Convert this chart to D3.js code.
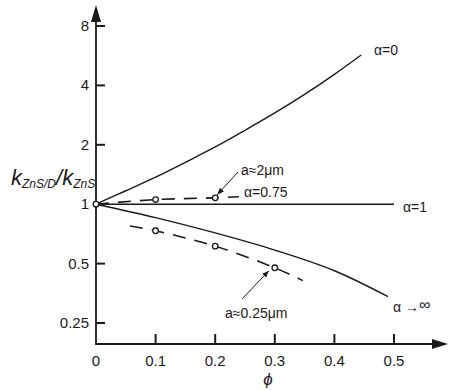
<!DOCTYPE html>
<html><head><meta charset="utf-8">
<script src="https://cdn.jsdelivr.net/npm/d3@7"></script>
<style>
html,body{margin:0;padding:0;background:#fff;}
text{font-family:"Liberation Sans",Arial,sans-serif;fill:#1a1a1a;}
</style></head>
<body><svg id="c" width="474" height="390"></svg>
<script>
// ---- data ----
const yTicks = [0.25, 0.5, 1, 2, 4, 8];
const yTickLabels = ["0.25", "0.5", "1", "2", "4", "8"];
const xTicks = [0, 0.1, 0.2, 0.3, 0.4, 0.5];
const xTickLabels = ["0", "0.1", "0.2", "0.3", "0.4", "0.5"];

const phiAlpha0 = [0, 0.05, 0.1, 0.15, 0.2, 0.25, 0.3, 0.35, 0.4, 0.445];
const valAlpha0 = [1, 1.17, 1.37, 1.63, 1.95, 2.37, 2.9, 3.6, 4.55, 5.7];

const phiAlpha1 = [0, 0.5];
const valAlpha1 = [1, 1];

const phiAlphaInf = [0, 0.1, 0.2, 0.3, 0.4, 0.49];
const valAlphaInf = [1, 0.855, 0.715, 0.585, 0.46, 0.34];

const phiA2um = [0, 0.1, 0.2, 0.24];
const valA2um = [1, 1.055, 1.077, 1.09];
const ptsA2umPhi = [0.1, 0.2];
const ptsA2umVal = [1.055, 1.077];

const phiA025 = [0.057, 0.1, 0.2, 0.3, 0.347];
const valA025 = [0.776, 0.733, 0.613, 0.476, 0.41];
const ptsA025Phi = [0.1, 0.2, 0.3];
const ptsA025Val = [0.733, 0.613, 0.476];

// ---- drawing ----
const svg = d3.select("#c");
const ink = "#1a1a1a";
const x = d3.scaleLinear().domain([0, 0.5]).range([96, 394]);
const y = d3.scaleLog().base(2).domain([0.25, 8]).range([323, 26]);

const defs = svg.append("defs");
defs.append("marker").attr("id", "ah").attr("viewBox", "0 0 10 10")
  .attr("refX", 10).attr("refY", 5).attr("markerWidth", 7).attr("markerHeight", 7)
  .attr("markerUnits", "userSpaceOnUse").attr("orient", "auto")
  .append("path").attr("d", "M0,1 L10,5 L0,9 Z").attr("fill", ink);

// axes lines with arrows
const x0 = x(0), yBase = 344;
svg.append("line").attr("x1", x0).attr("x2", x0).attr("y1", yBase + 1).attr("y2", 20)
  .attr("stroke", ink).attr("stroke-width", 1.8);
svg.append("path").attr("d", `M${x0},5 L${x0 - 5},22 L${x0 + 5},22 Z`).attr("fill", ink);
svg.append("line").attr("x1", x0).attr("x2", 434).attr("y1", yBase).attr("y2", yBase)
  .attr("stroke", ink).attr("stroke-width", 1.8);
svg.append("path").attr("d", `M448,${yBase} L432,${yBase - 5} L432,${yBase + 5} Z`).attr("fill", ink);

// y ticks and labels
svg.append("g").selectAll("line").data(yTicks).join("line")
  .attr("x1", x0).attr("x2", x0 + 9).attr("y1", d => y(d)).attr("y2", d => y(d))
  .attr("stroke", ink).attr("stroke-width", 2);
svg.append("g").selectAll("text").data(yTicks).join("text")
  .attr("x", x0 - 7).attr("y", d => y(d) + 5).attr("text-anchor", "end")
  .attr("font-size", 15).text((d, i) => yTickLabels[i]);

// x ticks and labels
svg.append("g").selectAll("line").data(xTicks.filter(d => d > 0)).join("line")
  .attr("x1", d => x(d)).attr("x2", d => x(d)).attr("y1", yBase).attr("y2", yBase - 10)
  .attr("stroke", ink).attr("stroke-width", 2);
svg.append("g").selectAll("text").data(xTicks).join("text")
  .attr("x", d => x(d)).attr("y", 366).attr("text-anchor", "middle")
  .attr("font-size", 15).text((d, i) => xTickLabels[i]);

// axis titles
svg.append("text").attr("x", 268).attr("y", 385).attr("text-anchor", "middle")
  .attr("font-size", 17).attr("font-style", "italic").text("\u03D5");
const yl = svg.append("text").attr("x", 11).attr("y", 185).attr("font-style", "italic");
yl.append("tspan").attr("font-size", 22).text("k");
yl.append("tspan").attr("font-size", 12).attr("dy", 3).text("ZnS/D");
yl.append("tspan").attr("font-size", 22).attr("dy", -3).text("/k");
yl.append("tspan").attr("font-size", 12).attr("dy", 3).text("ZnS");

// curves
const line = d3.line().x(d => x(d[0])).y(d => y(d[1])).curve(d3.curveCatmullRom.alpha(0.5));
function series(ph, vals) { return ph.map((p, i) => [p, vals[i]]); }
function draw(ph, vals, dashed) {
  svg.append("path").datum(series(ph, vals)).attr("d", line).attr("fill", "none")
    .attr("stroke", ink).attr("stroke-width", dashed ? 1.6 : 1.4)
    .attr("stroke-dasharray", dashed ? "13,9" : null);
}
draw(phiAlpha0, valAlpha0, false);
draw(phiAlpha1, valAlpha1, false);
draw(phiAlphaInf, valAlphaInf, false);
draw(phiA2um, valA2um, true);
draw(phiA025, valA025, true);

function pts(ph, vals) {
  svg.append("g").selectAll("circle").data(series(ph, vals)).join("circle")
    .attr("cx", d => x(d[0])).attr("cy", d => y(d[1])).attr("r", 2.8)
    .attr("fill", "#fff").attr("stroke", ink).attr("stroke-width", 1.3);
}
pts(ptsA2umPhi, ptsA2umVal);
pts(ptsA025Phi, ptsA025Val);
pts([0], [1]);

// annotations
function ann(x1, y1, x2, y2) {
  svg.append("line").attr("x1", x1).attr("y1", y1).attr("x2", x2).attr("y2", y2)
    .attr("stroke", ink).attr("stroke-width", 1).attr("marker-end", "url(#ah)");
}
ann(238, 172, x(0.2) + 2, y(1.077) - 3);
ann(242, 299, x(0.3) - 6, y(0.476) + 3);

const lab = (tx, ty, s, fs) => svg.append("text").attr("x", tx).attr("y", ty)
  .attr("font-size", fs || 14).text(s);
lab(374, 55, "\u03B1=0");
lab(403, 212, "\u03B1=1");
lab(244, 197, "\u03B1=0.75");
lab(241, 175, "a\u22482\u03BCm");
lab(225, 318, "a\u22480.25\u03BCm");
const ai = svg.append("text").attr("x", 393).attr("y", 312).attr("font-size", 14);
ai.append("tspan").text("\u03B1 ");
ai.append("tspan").attr("font-size", 14).text("\u2192");
ai.append("tspan").attr("font-size", 16).attr("dy", -2).text("\u221E");
</script></body></html>
